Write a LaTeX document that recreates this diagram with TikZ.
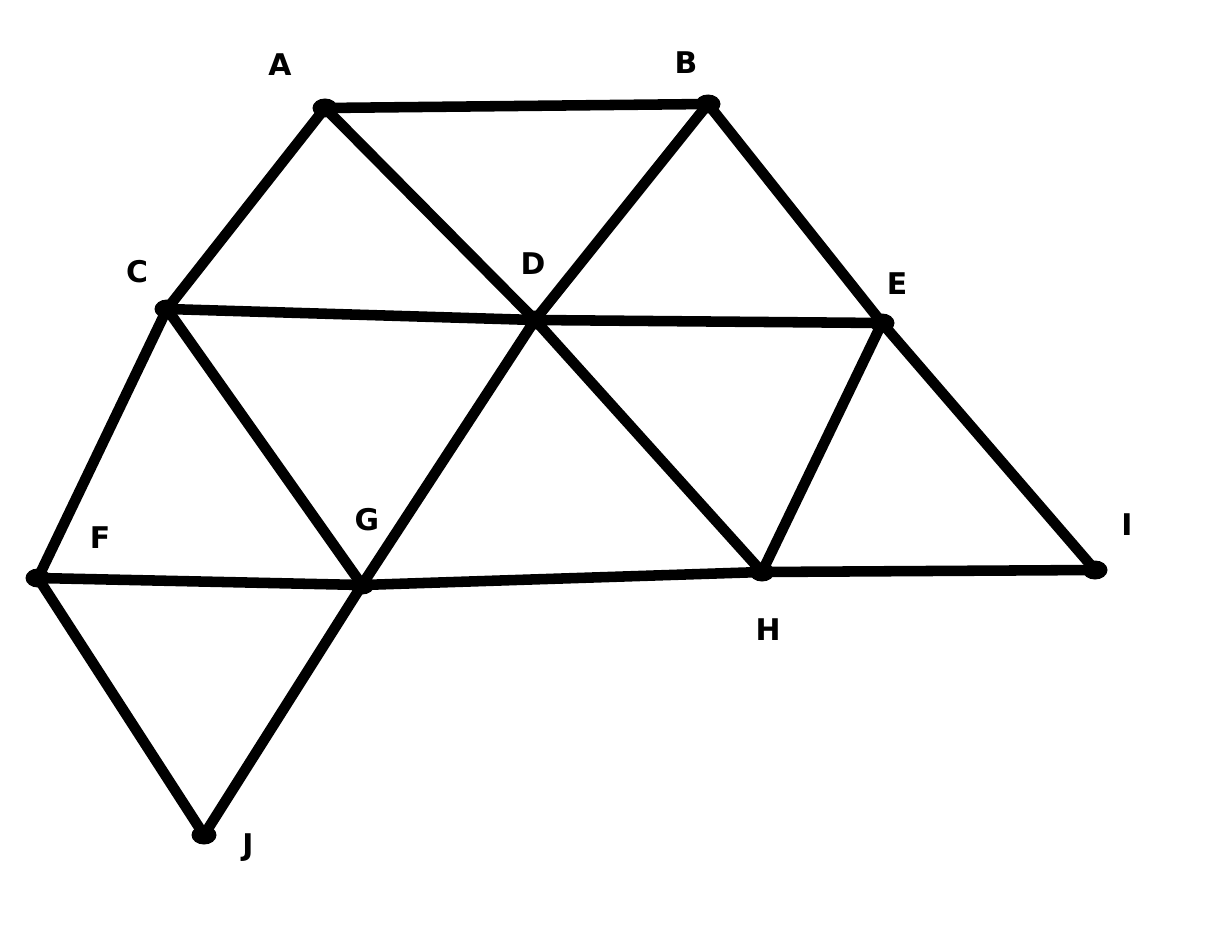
\documentclass[tikz,border=0pt]{standalone}
\usepackage{fontspec}
\setsansfont{DejaVu Sans}
\usetikzlibrary{shapes.geometric, positioning}

\begin{document}
\begin{tikzpicture}[x=0.02cm, y=-0.02cm,
    vertex/.style={draw=none, fill=black, ellipse, minimum width=0.5cm, minimum height=0.38cm, inner sep=0pt},
    tag/.style={font=\sffamily\bfseries\fontsize{17}{20}\selectfont, inner sep=0pt},
    edge/.style={line width=6pt}
]
\useasboundingbox (0,0) rectangle (1209,942);

% Vertices
\node[vertex] (A) at (325, 108) {};
\node[vertex] (B) at (708, 104) {};
\node[vertex] (C) at (167, 309) {};
\node[vertex] (D) at (535, 320) {};
\node[vertex] (E) at (882, 323) {};
\node[vertex] (F) at (38, 578) {};
\node[vertex] (G) at (362, 585) {};
\node[vertex] (H) at (762, 572) {};
\node[vertex] (I) at (1095, 570) {};
\node[vertex] (J) at (204, 835) {};

% Labels
\node[tag] (labA) at (280, 65) {A};
\node[tag] (labB) at (686, 63) {B};
\node[tag] (labC) at (137, 272) {C};
\node[tag] (labD) at (533, 264) {D};
\node[tag] (labE) at (897, 284) {E};
\node[tag] (labF) at (100, 538) {F};
\node[tag] (labG) at (367, 520) {G};
\node[tag] (labH) at (768, 630) {H};
\node[tag] (labI) at (1127, 525) {I};
\node[tag] (labJ) at (248, 848) {J};

% Edges
\draw[edge] (A.center) -- (B.center);
\draw[edge] (A.center) -- (C.center);
\draw[edge] (A.center) -- (D.center);
\draw[edge] (B.center) -- (D.center);
\draw[edge] (B.center) -- (E.center);
\draw[edge] (C.center) -- (D.center);
\draw[edge] (D.center) -- (E.center);
\draw[edge] (C.center) -- (F.center);
\draw[edge] (C.center) -- (G.center);
\draw[edge] (D.center) -- (G.center);
\draw[edge] (D.center) -- (H.center);
\draw[edge] (E.center) -- (H.center);
\draw[edge] (E.center) -- (I.center);
\draw[edge] (F.center) -- (G.center);
\draw[edge] (G.center) -- (H.center);
\draw[edge] (H.center) -- (I.center);
\draw[edge] (F.center) -- (J.center);
\draw[edge] (G.center) -- (J.center);

\end{tikzpicture}
\end{document}
